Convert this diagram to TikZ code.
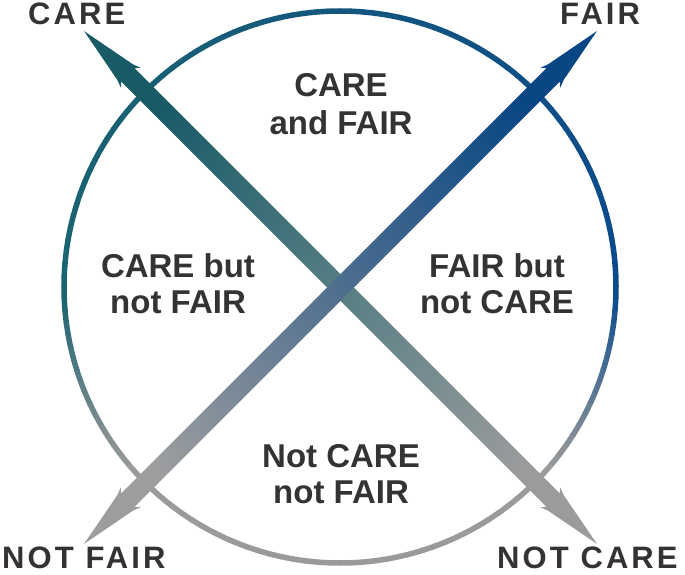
\documentclass[tikz,border=0pt]{standalone}
\usepackage{fontspec}
\setmainfont{Liberation Sans}
\newfontfamily\cornerfont[LetterSpace=10]{Liberation Sans}
\definecolor{txt}{HTML}{333333}
\definecolor{ringteal}{HTML}{1A6370}
\definecolor{ringblue}{HTML}{0C4B8B}
\definecolor{ringgrey}{HTML}{9A9A9A}
\definecolor{careteal}{HTML}{195A67}
\definecolor{caremid}{HTML}{567E84}
\definecolor{caregrey}{HTML}{9A9B9C}
\definecolor{fairblue}{HTML}{094784}
\definecolor{fairmid}{HTML}{4E6E8F}
\definecolor{fairgrey}{HTML}{9C9D9F}
\begin{document}
\begin{tikzpicture}[x=1pt,y=-1pt,
  lbl/.style={inner sep=0pt, text=txt, font=\fontsize{33}{33}\selectfont\bfseries, anchor=base},
  corner/.style={inner sep=0pt, text depth=0pt, text=txt, font=\cornerfont\fontsize{31}{31}\selectfont\bfseries, anchor=base west}]
\useasboundingbox (0,0) rectangle (685,575);
% ring with gradient
\foreach \i in {0,...,143} {
  \pgfmathsetmacro\a{\i*2.5}
  \pgfmathsetmacro\m{\a+1.25}
  \pgfmathsetmacro\h{(1+cos(\m))*50}
  \pgfmathsetmacro\w{max(0,min(100,(-276*sin(\m)-10)/1.7))}
  \colorlet{segA}{ringblue!\h!ringteal}
  \colorlet{segB}{ringgrey!\w!segA}
  \draw[segB, line width=5.5pt] ({340+276*cos(\a)},{287-276*sin(\a)}) arc[start angle=\a, delta angle=2.7, radius=276pt];
}
% CARE arrow (top-left to bottom-right)
\begin{scope}
  \clip[shift={(340.5,287.5)},rotate=-45] (-362.7,0) -- (-304.7,11) -- (-296.7,14) -- (-300.7,9.5) -- (300.7,9.5) -- (296.7,14) -- (304.7,11) -- (362.7,0) -- (304.7,-11) -- (296.7,-14) -- (300.7,-9.5) -- (-300.7,-9.5) -- (-296.7,-14) -- (-304.7,-11) -- cycle;
  \shade[top color=careteal, bottom color=caregrey, middle color=caremid, shading angle=45] (84,31) rectangle (597,544);
\end{scope}
% FAIR arrow (bottom-left to top-right)
\begin{scope}
  \clip[shift={(340.5,287.5)},rotate=45] (-362.7,0) -- (-304.7,11) -- (-296.7,14) -- (-300.7,9.5) -- (300.7,9.5) -- (296.7,14) -- (304.7,11) -- (362.7,0) -- (304.7,-11) -- (296.7,-14) -- (300.7,-9.5) -- (-300.7,-9.5) -- (-296.7,-14) -- (-304.7,-11) -- cycle;
  \shade[top color=fairblue, bottom color=fairgrey, middle color=fairmid, shading angle=-45] (84,31) rectangle (597,544);
\end{scope}
% labels
\node[corner] (care) at (28,25) {CARE};
\node[corner] (fair) at (560,25) {FAIR};
\node[corner] (notfair) at (2,568) {NOT FAIR};
\node[corner] (notcare) at (497,568) {NOT CARE};
\node[lbl] (cf1) at (341,97) {CARE};
\node[lbl] (cf2) at (341,135) {and FAIR};
\node[lbl] (cnf1) at (178,277) {CARE but};
\node[lbl] (cnf2) at (178,313) {not FAIR};
\node[lbl] (fnc1) at (497,277) {FAIR but};
\node[lbl] (fnc2) at (497,313) {not CARE};
\node[lbl] (nn1) at (341,467) {Not CARE};
\node[lbl] (nn2) at (341,503) {not FAIR};
\end{tikzpicture}
\end{document}
